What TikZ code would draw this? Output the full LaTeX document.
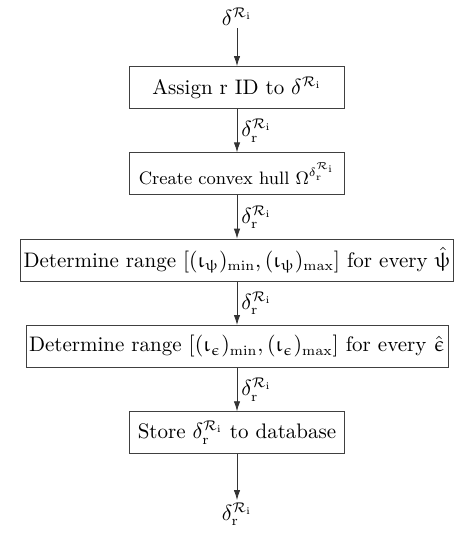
\documentclass[tikz,border=0pt]{standalone}
\usepackage{upgreek}
\usetikzlibrary{positioning,arrows.meta}

\newcommand{\dri}{\delta_\mathrm{r}^{\mathcal{R}_\mathrm{i}}}

\begin{document}
\begin{tikzpicture}[
  font=\fontsize{10.5}{12.5}\selectfont,
  process/.style={draw=black!75, minimum width=107.5pt, minimum height=21pt, inner xsep=1.5pt, inner ysep=3pt},
  flow/.style={draw=black!80, -{Latex[length=5pt,width=3.2pt]}},
  lbl/.style={right, inner sep=2pt},
  node distance=21.75pt
]
  \useasboundingbox (0,0) rectangle (237pt,-270pt);
  \node[process] (assign) at (118.5pt,-43.75pt) {Assign r ID to $\delta^{\mathcal{R}_\mathrm{i}}$};
  \node[inner sep=1pt, above=19pt of assign] (input) {$\delta^{\mathcal{R}_\mathrm{i}}$};
  \node[process, below=of assign, font=\small] (hull) {Create convex hull $\Omega^{\delta_\mathrm{r}^{\mathcal{R}_\mathrm{i}}}$};
  \node[process, below=of hull] (rangepsi) {Determine range $[(\upiota_\uppsi)_\mathrm{min},(\upiota_\uppsi)_\mathrm{max}]$ for every $\hat{\uppsi}$};
  \node[process, below=of rangepsi] (rangeeps) {Determine range $[(\upiota_\upepsilon)_\mathrm{min},(\upiota_\upepsilon)_\mathrm{max}]$ for every $\hat{\upepsilon}$};
  \node[process, below=of rangeeps] (store) {Store $\dri$ to database};
  \node[inner sep=1pt, below=23pt of store] (output) {$\dri$};

  \draw[flow] (input) -- (assign);
  \draw[flow] (assign) -- node[lbl] {$\dri$} (hull);
  \draw[flow] (hull) -- node[lbl] {$\dri$} (rangepsi);
  \draw[flow] (rangepsi) -- node[lbl] {$\dri$} (rangeeps);
  \draw[flow] (rangeeps) -- node[lbl] {$\dri$} (store);
  \draw[flow] (store) -- (output);
\end{tikzpicture}
\end{document}
